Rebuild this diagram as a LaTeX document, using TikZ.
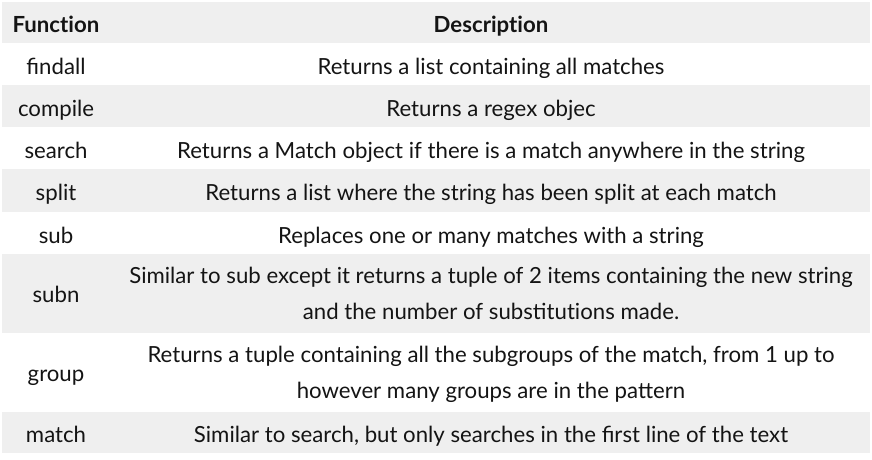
\documentclass[tikz,border=0pt]{standalone}
\usepackage{fontspec}
\setmainfont{Lato}
\usetikzlibrary{positioning}
\definecolor{rowgray}{HTML}{EFEFEF}
\definecolor{ink}{HTML}{141414}
\newcommand{\noti}{t\kern0pt i}% keep t and i apart
\tikzset{
  cell/.style={font=\fontsize{22.2}{36}\selectfont, text=ink, align=center, inner sep=0pt, anchor=base},
  head/.style={cell, font=\fontsize{22.2}{36}\selectfont\bfseries},
  band/.style={fill=rowgray, draw=none}
}
\begin{document}
\begin{tikzpicture}[x=1pt,y=-1pt]
  \useasboundingbox (0,0) rectangle (872,459);

  % grey bands
  \foreach \top/\bot in {2/43, 85/127, 169/212, 254/333, 412/453}
    \fill[band] (2,\top) rectangle (870,\bot);

  \node[head] (function) at (56,32) {Func\noti on};
  \node[head] (description) at (491,32) {Descrip\noti on};

  \node[cell] (findall) at (56,74) {findall};
  \node[cell] (findall-d) at (491,74) {Returns a list containing all matches};

  \node[cell] (compile) at (56,116) {compile};
  \node[cell] (compile-d) at (491,116) {Returns a regex objec};

  \node[cell] (search) at (56,158) {search};
  \node[cell] (search-d) at (491,158) {Returns a Match object if there is a match anywhere in the string};

  \node[cell] (split) at (56,200) {split};
  \node[cell] (split-d) at (491,200) {Returns a list where the string has been split at each match};

  \node[cell] (sub) at (56,243) {sub};
  \node[cell] (sub-d) at (491,243) {Replaces one or many matches with a string};

  % two-line rows: base is the last line
  \node[cell] (subn) at (56,302) {subn};
  \node[cell] (subn-d) at (491,319) {Similar to sub except it returns a tuple of 2 items containing the new string\\and the number of substitu\noti ons made.};

  \node[cell] (group) at (56,381) {group};
  \node[cell] (group-d) at (491,398) {Returns a tuple containing all the subgroups of the match, from 1 up to\\however many groups are in the pattern};

  \node[cell] (match) at (56,442) {match};
  \node[cell] (match-d) at (491,442) {Similar to search, but only searches in the first line of the text};
\end{tikzpicture}
\end{document}
